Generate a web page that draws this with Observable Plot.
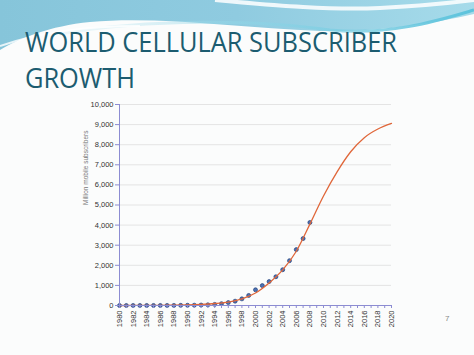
<!DOCTYPE html>
<html>
<head>
<meta charset="utf-8">
<script src="https://cdn.jsdelivr.net/npm/d3@7"></script>
<script src="https://cdn.jsdelivr.net/npm/@observablehq/plot@0.6"></script>
<style>
  html, body { margin: 0; padding: 0; }
  body { width: 474px; height: 355px; overflow: hidden; background: #fbfcfc; position: relative; font-family: "Open Sans", "Liberation Sans", sans-serif; }
  #bg { position: absolute; left: 0; top: 0; }
  #title { position: absolute; left: 0; top: 0; }
  #chart { position: absolute; left: 70px; top: 95px; }
  #page { position: absolute; left: 445px; top: 314px; font-size: 8px; color: #888; font-family: "Liberation Sans", sans-serif; }
</style>
</head>
<body>
<svg id="bg" width="474" height="100" viewBox="0 0 474 100">
  <defs>
    <linearGradient id="g1" x1="0" y1="0" x2="1" y2="0">
      <stop offset="0" stop-color="#86c5da"/>
      <stop offset="0.5" stop-color="#8fcbe0"/>
      <stop offset="1" stop-color="#a6dbea"/>
    </linearGradient>
    <linearGradient id="g2" x1="0" y1="0" x2="1" y2="0">
      <stop offset="0" stop-color="#b9e4ef" stop-opacity="0.2"/>
      <stop offset="1" stop-color="#5cc3dc"/>
    </linearGradient>
  </defs>
  <path d="M0,0 H474 V14 C 430,24 380,32 320,31 C 240,28 160,16 90,22 C 50,26 20,38 0,50 Z" fill="url(#g1)"/>
  <path d="M60,34 C 150,18 260,20 330,30 C 390,36 440,20 474,10" fill="none" stroke="url(#g2)" stroke-width="3"/>
  <path d="M0,46 C 40,32 90,26 140,26" fill="none" stroke="#ffffff" stroke-width="2" opacity="0.8"/>
  <path d="M215,0 C 280,6 330,10 380,8 C 420,6 450,3 474,0" fill="none" stroke="#ffffff" stroke-width="4" opacity="0.85"/>
</svg>
<svg id="title" width="474" height="100">
  <text x="25" y="52" font-family="Open Sans, sans-serif" font-size="27" fill="#1c5c70" textLength="372" lengthAdjust="spacingAndGlyphs">WORLD CELLULAR SUBSCRIBER</text>
  <text x="25" y="88" font-family="Open Sans, sans-serif" font-size="27" fill="#1c5c70" textLength="110" lengthAdjust="spacingAndGlyphs">GROWTH</text>
</svg>
<div id="chart"></div>
<div id="page">7</div>
<script>
// Observed subscribers (millions), 1980–2008
const obsYears = [1980,1981,1982,1983,1984,1985,1986,1987,1988,1989,1990,1991,1992,1993,1994,1995,1996,1997,1998,1999,2000,2001,2002,2003,2004,2005,2006,2007,2008];
const obsValues = [0,0,1,1,1,2,2,3,5,7,11,16,23,34,55,90,145,215,330,500,780,990,1190,1430,1780,2230,2780,3330,4130];
// Fitted growth curve (millions)
const curveYears = [1980,1982,1984,1986,1988,1990,1992,1994,1996,1998,2000,2002,2004,2006,2008,2010,2012,2014,2016,2018,2020];
const curveValues = [0,2,5,10,20,35,60,100,170,330,620,1120,1770,2700,4050,5450,6650,7650,8350,8780,9060];
// Axis ticks
const xTicks = [1980,1981,1982,1983,1984,1985,1986,1987,1988,1989,1990,1991,1992,1993,1994,1995,1996,1997,1998,1999,2000,2001,2002,2003,2004,2005,2006,2007,2008,2009,2010,2011,2012,2013,2014,2015,2016,2017,2018,2019,2020];
const yTicks = [0,1000,2000,3000,4000,5000,6000,7000,8000,9000,10000];
const yLabel = "Million mobile subscribers";

const obs = obsYears.map((y, i) => ({year: y, value: obsValues[i]}));
const curve = curveYears.map((y, i) => ({year: y, value: curveValues[i]}));
const axisColor = "#8c8cd2";

const chart = Plot.plot({
  width: 330,
  height: 240,
  marginLeft: 49,
  marginRight: 9,
  marginTop: 9,
  marginBottom: 30,
  style: {fontFamily: "Liberation Sans, Arial, sans-serif", fontSize: "7.5px", color: "#333", background: "transparent"},
  x: {domain: [1980, 2020]},
  y: {domain: [0, 10000]},
  marks: [
    Plot.gridY(yTicks, {stroke: "#e4e4e4", strokeOpacity: 1}),
    Plot.dot(obs, {x: "year", y: "value", r: 2, fill: "#4d72b4", stroke: "#22417a", strokeWidth: 0.7}),
    Plot.line(curve, {x: "year", y: "value", stroke: "#e0673a", strokeWidth: 1.3, curve: "monotone-x"}),
    Plot.ruleX([1980], {stroke: axisColor, strokeWidth: 1}),
    Plot.ruleY([0], {stroke: axisColor, strokeWidth: 1}),
    Plot.axisY(yTicks, {tickFormat: d3.format(","), tickSize: 4, tickPadding: 2, stroke: axisColor, label: null}),
    Plot.axisX(xTicks, {tickFormat: d => d % 2 ? "" : String(d), tickSize: 3, tickPadding: 2, tickRotate: -90, stroke: axisColor, label: null}),
    Plot.text([yLabel], {frameAnchor: "left", dx: -34, rotate: -90, fontSize: 6.5, fill: "#777"})
  ]
});
document.getElementById("chart").appendChild(chart);
</script>
</body>
</html>
